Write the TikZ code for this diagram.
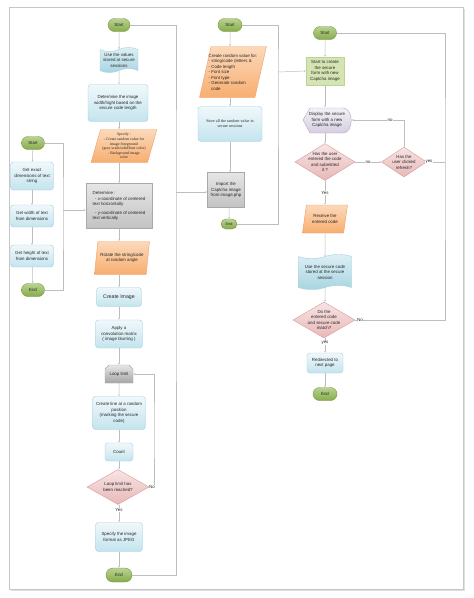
\documentclass[tikz,border=0pt]{standalone}
\usepackage{fontspec}
\setmainfont{Liberation Sans}
\newfontfamily\serifx{Liberation Serif}
\usetikzlibrary{shapes.geometric,shapes.misc,shapes.symbols,arrows.meta}

\definecolor{termtop}{HTML}{B9D391}
\definecolor{termbot}{HTML}{86AB4A}
\definecolor{termline}{HTML}{77963F}
\definecolor{proctop}{HTML}{F0F8FB}
\definecolor{procbot}{HTML}{C4E4EE}
\definecolor{procline}{HTML}{A3D0DE}
\definecolor{iotop}{HTML}{FCD9BA}
\definecolor{iobot}{HTML}{F7AE70}
\definecolor{ioline}{HTML}{EFA064}
\definecolor{greytop}{HTML}{E6E6E6}
\definecolor{greybot}{HTML}{C2C2C2}
\definecolor{greyline}{HTML}{A9A9A9}
\definecolor{dectop}{HTML}{F8E4E4}
\definecolor{decbot}{HTML}{E8B8B8}
\definecolor{decline}{HTML}{D89999}
\definecolor{formfill}{HTML}{D5E4B3}
\definecolor{formline}{HTML}{BCD296}
\definecolor{disptop}{HTML}{F3F1F6}
\definecolor{dispbot}{HTML}{D5CEDF}
\definecolor{displine}{HTML}{B2A8C2}
\definecolor{tapetop}{HTML}{DDF0F5}
\definecolor{tapebot}{HTML}{A8D4E2}
\definecolor{wire}{HTML}{BDBDBD}
\definecolor{ink}{HTML}{262626}

\tikzset{
  every node/.style={font=\fontsize{4.4}{5.5}\selectfont, text=ink, inner sep=1pt},
  term/.style={rounded rectangle, draw=termline, top color=termtop, bottom color=termbot,
    minimum width=25pt, minimum height=13pt},
  proc/.style={rectangle, rounded corners=3pt, draw=procline, top color=proctop,
    bottom color=procbot, align=center},
  iobox/.style={trapezium, trapezium left angle=75, trapezium right angle=105,
    trapezium stretches=true, draw=ioline, top color=iotop, bottom color=iobot, align=center},
  greybox/.style={rectangle, draw=greyline, top color=greytop, bottom color=greybot},
  dec/.style={diamond, draw=decline, top color=dectop, bottom color=decbot},
  tapebox/.style={tape, tape bend height=4pt, draw=procline, top color=tapetop,
    bottom color=tapebot, align=center},
  conn/.style={draw=wire, line width=0.5pt, -{Latex[length=1.8pt,width=1.7pt]}},
  wireline/.style={draw=wire, line width=0.5pt},
  lbl/.style={fill=white, inner sep=0.6pt},
}

\begin{document}
\begin{tikzpicture}[x=1pt,y=-1pt]
  \useasboundingbox (0,0) rectangle (474,598);
  % frame
  \fill[gray!25] (11,9) rectangle (465,591);
  \draw[gray!45, fill=white, line width=0.7pt] (9,7) rectangle (463,589);

  % text dimensions
  \node[term] (start0) at (33,143) {Start};
  \node[proc, minimum width=43pt, minimum height=28pt] (exact) at (32,176) {Get exact\\dimensions of text\\string};
  \node[proc, minimum width=43pt, minimum height=22pt] (getw) at (32,216) {Get width of text\\from dimensions};
  \node[proc, minimum width=43pt, minimum height=22pt] (geth) at (32,256) {Get height of text\\from dimensions};
  \node[term] (end0) at (33,290) {End};
  \coordinate (brB) at (63,210);

  % image.php
  \node[term, minimum width=24pt] (start1) at (119,25) {Start};
  \node[tapebox, minimum width=38pt, minimum height=25pt] (vals) at (119,60) {Use the values\\stored at secure\\sessions};
  \node[proc, minimum width=60pt, minimum height=37pt] (dimg) at (118,103) {Determine the image\\width/hight based on the\\secure code length};
  \node[iobox, minimum width=66pt, minimum height=33pt, inner xsep=-3pt, font=\serifx\fontsize{3.9}{4.6}\selectfont] (spec) at (124,146)
    {Specify :\\- Create random value for\\image foreground\\(grey scale/solid/font color)\\- Background image\\color};
  \node[greybox, minimum width=66pt, minimum height=45pt, align=left] (detr) at (119,206)
    {Determine :\\\ \ - x-coordinate of centered\\text horizontally\\[3pt]\ \ - y-coordinate of centered\\text vertically};
  \node[iobox, minimum width=55pt, minimum height=33pt] (rot) at (122,258) {Rotate the string/code\\at random angle};
  \node[proc, minimum width=45pt, minimum height=19pt, font=\fontsize{5.2}{6}\selectfont] (cimg) at (119,297) {Create Image};
  \node[proc, minimum width=47pt, minimum height=28pt] (blur) at (119,334) {Apply a\\convolution matrix\\( image blurring )};
  \node[chamfered rectangle, chamfered rectangle corners={north west,north east},
    chamfered rectangle xsep=2pt, chamfered rectangle ysep=2pt, draw=greyline,
    top color=greytop, bottom color=greybot!85!black,
    minimum width=28pt, minimum height=18pt] (loop) at (119,374) {Loop limit};
  \node[proc, minimum width=53pt, minimum height=33pt] (marker) at (119,413) {Create line at a random\\position\\(marking the secure\\code)};
  \node[proc, minimum width=28pt, minimum height=18pt] (count) at (119,452) {Count};
  \node[dec, minimum width=62pt, minimum height=35pt] (reached) at (118,487) {};
  \node[align=center] (reachedtxt) at (reached) {Loop limit has\\been reached?};
  \node[proc, minimum width=47pt, minimum height=29pt] (jpeg) at (119,537) {Specify the image\\format as JPEG};
  \node[term, minimum width=28pt, minimum height=14pt] (end1) at (119,575) {End};
  \coordinate (brA) at (176,192);
  \coordinate (brL) at (154,430);

  % captcha values
  \node[term, minimum width=26pt] (start2) at (230,25) {Start};
  \node[iobox, minimum width=67pt, minimum height=51pt, inner xsep=-5pt, align=left] (rand) at (233,72)
    {Create random value for:\\- string/code (letters \&\\- Code length\\- Font size\\- Font type\\- Generate random\\\ \ code};
  \node[proc, minimum width=64pt, minimum height=35pt, font=\serifx\fontsize{4.1}{5}\selectfont] (store) at (230,124) {Store all the random value in\\secure sessions};
  \node[greybox, minimum width=37pt, minimum height=35pt, align=center] (import) at (226,190) {Import the\\Captcha image\\from image.php};
  \node[term, minimum width=18pt, minimum height=10pt, font=\fontsize{3.8}{4.6}\selectfont] (end2) at (229,224) {End};
  \coordinate (brC) at (278,72);

  % secure form
  \node[term] (start3) at (325,33) {Start};
  \node[rectangle, draw=formline, fill=formfill, minimum width=38pt, minimum height=28pt, align=center] (form) at (325,71)
    {Start to create\\the secure\\form with new\\Captcha image};
  \path[draw=displine, top color=disptop, bottom color=dispbot]
    (303,120) -- (310,108) -- (343,108) .. controls (354,108) and (354,133) .. (343,133) -- (310,133) -- cycle;
  \node[minimum width=49pt, minimum height=25pt, align=center] (disp) at (327,120) {Display the secure\\form with a new\\Captcha image};
  \node[dec, minimum width=60pt, minimum height=37pt] (entered) at (325,162) {};
  \node[align=center] (enteredtxt) at (entered) {Has the user\\entered the code\\and submitted\\it ?};
  \node[dec, minimum width=45pt, minimum height=30pt] (refresh) at (404,162) {};
  \node[align=center] (refreshtxt) at (refresh) {Has the\\user clicked\\refresh?};
  \node[iobox, minimum width=45pt, minimum height=28pt] (receive) at (325,219) {Receive the\\entered code};
  \node[tapebox, minimum width=53pt, minimum height=35pt] (usecode) at (325,272) {Use the secure code\\stored at the secure\\session};
  \node[dec, minimum width=62pt, minimum height=36pt] (match) at (324,320) {};
  \node[align=center] (matchtxt) at (match) {Do the\\entered code\\and secure code\\match?};
  \node[proc, minimum width=36pt, minimum height=20pt] (redirect) at (325,363) {Redirected to\\next page};
  \node[term, minimum width=26pt] (end3) at (325,394) {End};
  \coordinate (brD) at (445,162);

  % connectors, text dimensions
  \draw[conn] (start0) -- (exact);
  \draw[conn] (exact) -- (getw);
  \draw[conn] (getw) -- (geth);
  \draw[conn] (geth) -- (end0);
  \draw[wireline] (start0.east) -| (brB) |- (end0.east);
  \draw[conn] (brB) -- (brB -| detr.west);

  % connectors, image.php
  \draw[conn] (start1) -- (vals);
  \draw[conn] (vals) -- (vals |- dimg.north);
  \draw[conn] (dimg.south -| start1) -- (spec.north -| start1);
  \draw[conn] (spec.south -| start1) -- (detr.north -| start1);
  \draw[conn] (detr.south -| start1) -- (rot.north -| start1);
  \draw[conn] (rot.south -| start1) -- (cimg.north);
  \draw[conn] (cimg) -- (blur);
  \draw[conn] (blur) -- (loop);
  \draw[conn] (loop) -- (marker);
  \draw[conn] (marker) -- (count);
  \draw[conn] (count) -- (count |- reached.north);
  \draw[conn] (reached.south -| start1) -- (jpeg.north);
  \draw[conn] (jpeg) -- (end1);
  \draw[conn] (reached.east) -| (brL) |- (loop.east);
  \node[lbl] (noA) at (152,487) {No};
  \node[lbl] (yesA) at (119,510) {Yes};
  \draw[wireline] (start1.east) -| (brA) |- (end1.east);
  \draw[conn] (brA) -- (brA -| import.west);

  % connectors, captcha values
  \draw[conn] (start2) -- (start2 |- rand.north);
  \draw[conn] (rand.south -| start2) -- (store.north -| start2);
  \draw[conn] (store.south -| start2) -- (import.north -| start2);
  \draw[conn] (import.south -| end2) -- (end2);
  \draw[wireline] (start2.east) -| (brC) |- (end2.east);
  \draw[conn] (brC) -- (form.west);

  % connectors, secure form
  \draw[conn] (start3) -- (form);
  \draw[conn] (form) -- (form |- disp.north);
  \draw[conn] (disp.south -| form) -- (entered);
  \draw[conn] (entered) -- (receive);
  \draw[conn] (receive) -- (usecode);
  \draw[conn] (usecode) -- (usecode |- match.north);
  \draw[conn] (match.south -| redirect) -- (redirect);
  \draw[conn] (redirect) -- (end3);
  \draw[conn] (entered.east) -- (refresh.west);
  \draw[conn] (refresh.north) |- (disp.east);
  \draw[wireline] (refresh.east) -- (brD);
  \draw[wireline] (start3.east) -| (brD) |- (match.east);
  \node[lbl] (yesB) at (325,193) {Yes};
  \node[lbl] (noB) at (368,162) {no};
  \node[lbl] (noC) at (390,120) {no};
  \node[lbl] (yesC) at (429,162) {yes};
  \node[lbl] (noD) at (360,320) {No};
  \node[lbl] (yesD) at (325,343) {yes};
\end{tikzpicture}
\end{document}
